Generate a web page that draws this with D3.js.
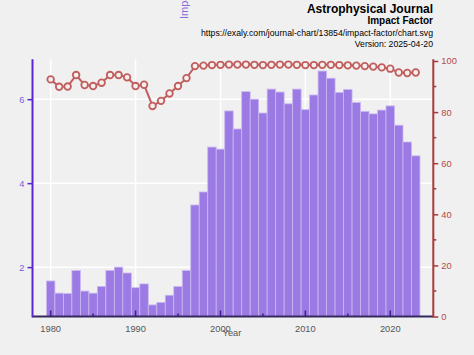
<!DOCTYPE html>
<html>
<head>
<meta charset="utf-8">
<script src="https://cdn.jsdelivr.net/npm/d3@7"></script>
<style>
  html, body { margin: 0; padding: 0; background: #f0f0f0; }
  svg { display: block; font-family: "Liberation Sans", Arial, sans-serif; }
</style>
</head>
<body>
<svg id="chart" width="474" height="355"></svg>
<script>
const years = d3.range(1980, 2024);
const impactFactor = [
  1.67, 1.38, 1.37, 1.92, 1.43, 1.38, 1.54, 1.92, 2.00, 1.86,
  1.51, 1.60, 1.10, 1.16, 1.33, 1.54, 1.92, 3.48, 3.79, 4.86,
  4.81, 5.72, 5.29, 6.18, 6.00, 5.67, 6.24, 6.17, 5.89, 6.24,
  5.75, 6.10, 6.67, 6.50, 6.16, 6.23, 5.92, 5.71, 5.65, 5.74,
  5.84, 5.38, 4.98, 4.65
];
const percentile = [
  92.8, 89.9, 90.0, 94.5, 90.6, 90.2, 91.5, 94.5, 94.5, 93.6,
  90.2, 90.7, 82.4, 84.4, 87.3, 90.2, 93.3, 98.0, 98.2, 98.4,
  98.5, 98.6, 98.6, 98.6, 98.5, 98.4, 98.5, 98.6, 98.6, 98.5,
  98.4, 98.4, 98.5, 98.5, 98.4, 98.3, 98.2, 98.0, 97.8, 97.5,
  97.0, 95.5, 95.3, 95.5
];
const leftTicks = [2, 4, 6];
const rightTicks = [0, 20, 40, 60, 80, 100];
const xTicks = [1980, 1990, 2000, 2010, 2020];
const titleLines = ["Astrophysical Journal", "Impact Factor",
  "https://exaly.com/journal-chart/13854/impact-factor/chart.svg", "Version: 2025-04-20"];

const svg = d3.select("#chart");
const L = 32.5, R = 433.3, T = 59.3, B = 316.5;

const x = d3.scaleLinear().domain([1977.86, 2025.07]).range([L, R]);
const y = d3.scaleLinear().domain([0.824, 6.95]).range([B, T]);
const y2 = d3.scaleLinear().domain([0, 100]).range([B, 61]);
const bw = x(1981) - x(1980);

svg.append("rect").attr("width", 474).attr("height", 355).attr("fill", "#f0f0f0");

// grid
const grid = svg.append("g").attr("stroke", "#ffffff").attr("stroke-width", 1.5);
grid.selectAll("line.v").data(xTicks).join("line")
  .attr("x1", d => x(d)).attr("x2", d => x(d)).attr("y1", T).attr("y2", B);
grid.selectAll("line.h").data(leftTicks).join("line")
  .attr("x1", L).attr("x2", R).attr("y1", d => y(d)).attr("y2", d => y(d));

// bars
svg.append("g").selectAll("rect").data(years).join("rect")
  .attr("x", (d) => x(d) - bw / 2)
  .attr("width", bw)
  .attr("y", (d, i) => y(impactFactor[i]))
  .attr("height", (d, i) => B - y(impactFactor[i]))
  .attr("fill", "#9b7be3")
  .attr("stroke", "#c9b8f2")
  .attr("stroke-width", 0.8);

// bottom axis
svg.append("line").attr("x1", L).attr("x2", R).attr("y1", B).attr("y2", B)
  .attr("stroke", "#35285e").attr("stroke-width", 2);
svg.append("g").selectAll("line").data(d3.range(1980, 2025, 5)).join("line")
  .attr("x1", d => x(d)).attr("x2", d => x(d))
  .attr("y1", B).attr("y2", d => B - (d % 10 === 0 ? 6 : 3))
  .attr("stroke", "#3a1f8a").attr("stroke-width", 1.5);
svg.append("g").selectAll("text").data(xTicks).join("text")
  .attr("x", d => x(d)).attr("y", 332)
  .attr("text-anchor", "middle").attr("font-size", 9.3).attr("fill", "#555")
  .text(d => d);
svg.append("text").attr("x", 232).attr("y", 336).attr("text-anchor", "middle")
  .attr("font-size", 9.3).attr("fill", "#555").text("Year");

// left axis
const yAxis = d3.axisLeft(y).tickValues(leftTicks).tickFormat(d3.format("d")).tickSize(5).tickPadding(3);
const gl = svg.append("g").attr("transform", `translate(${L},0)`).call(yAxis);
gl.select(".domain").remove();
gl.selectAll(".tick line").attr("stroke", "#5a25d0").attr("stroke-width", 1.5);
gl.selectAll(".tick text").attr("fill", "#7a5cd8").attr("font-size", 9.3)
  .attr("font-family", "Liberation Sans, Arial, sans-serif");
svg.append("line").attr("x1", L).attr("x2", L).attr("y1", T).attr("y2", B + 1)
  .attr("stroke", "#5a25d0").attr("stroke-width", 2);

// right axis
const y2Axis = d3.axisRight(y2).tickValues(rightTicks).tickFormat(d3.format("d")).tickSize(5).tickPadding(3);
const gr = svg.append("g").attr("transform", `translate(${R},0)`).call(y2Axis);
gr.select(".domain").remove();
gr.selectAll(".tick line").attr("stroke", "#a83a3a").attr("stroke-width", 1.5);
gr.selectAll(".tick text").attr("fill", "#b04a4a").attr("font-size", 9.3)
  .attr("font-family", "Liberation Sans, Arial, sans-serif");
svg.append("g").selectAll("line").data([10, 30, 50, 70, 90]).join("line")
  .attr("x1", R).attr("x2", R + 3).attr("y1", d => y2(d)).attr("y2", d => y2(d))
  .attr("stroke", "#a83a3a").attr("stroke-width", 1.5);
svg.append("line").attr("x1", R).attr("x2", R).attr("y1", T).attr("y2", B + 1)
  .attr("stroke", "#a83a3a").attr("stroke-width", 2);

// line
const line = d3.line().x((d, i) => x(years[i])).y(d => y2(d));
svg.append("path").datum(percentile).attr("d", line)
  .attr("fill", "none").attr("stroke", "#c25e5e").attr("stroke-width", 2);
svg.append("g").selectAll("circle").data(percentile).join("circle")
  .attr("cx", (d, i) => x(years[i])).attr("cy", d => y2(d)).attr("r", 3.3)
  .attr("fill", "#f4f0f0").attr("stroke", "#c25e5e").attr("stroke-width", 1.8);

// left label (mostly off top)
svg.append("text").attr("transform", "translate(188,19) rotate(-90)")
  .attr("text-anchor", "start").attr("font-size", 11).attr("fill", "#8a6ad8")
  .text("Impact Factor");

// titles
const tg = svg.append("g").attr("text-anchor", "end");
tg.append("text").attr("x", 433).attr("y", 12.5).attr("font-size", 12).attr("font-weight", "bold").attr("fill", "#000").text(titleLines[0]);
tg.append("text").attr("x", 433).attr("y", 23.5).attr("font-size", 10).attr("font-weight", "bold").attr("fill", "#000").text(titleLines[1]);
tg.append("text").attr("x", 433).attr("y", 36).attr("font-size", 8.7).attr("fill", "#000").text(titleLines[2]);
tg.append("text").attr("x", 433).attr("y", 47).attr("font-size", 8.7).attr("fill", "#000").text(titleLines[3]);
</script>
</body>
</html>
